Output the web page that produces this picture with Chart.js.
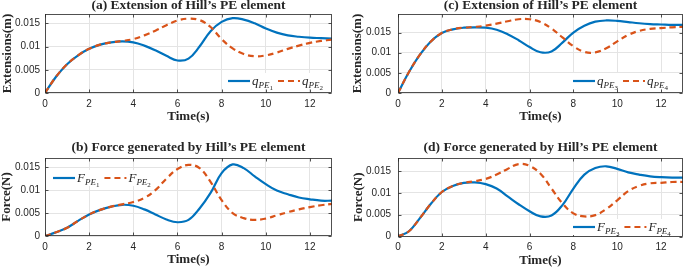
<!DOCTYPE html>
<html><head><meta charset="utf-8">
<script src="https://cdn.jsdelivr.net/npm/chart.js@4.4.1/dist/chart.umd.min.js"></script>
<style>
html,body{margin:0;padding:0;background:#fff;width:685px;height:267px;overflow:hidden;position:relative}
canvas{position:absolute;display:block}
</style></head><body>
<canvas id="ca"></canvas><canvas id="cb"></canvas><canvas id="cc"></canvas><canvas id="cd"></canvas>
<script>
// ---------- data ----------
const time = [0,0.5,1,1.5,2,2.5,3,3.5,4,4.5,5,5.5,6,6.5,7,7.5,8,8.5,9,9.5,10,10.5,11,11.5,12,12.5,13];
// (a) extensions (m)
const qPE1 = [0,0.0035,0.0062,0.0081,0.0095,0.0104,0.0109,0.0111,0.0109,0.0102,0.0092,0.0080,0.0070,0.0074,0.0100,0.0133,0.0153,0.0161,0.0158,0.0150,0.0139,0.0130,0.0124,0.0121,0.0119,0.0118,0.0117];
const qPE2 = [0,0.0035,0.0062,0.0081,0.0095,0.0104,0.0109,0.0112,0.0116,0.0124,0.0134,0.0146,0.0156,0.0160,0.0157,0.0142,0.0116,0.0096,0.0084,0.0079,0.0081,0.0087,0.0095,0.0102,0.0108,0.0112,0.0115];
// (b) force (N)
const FPE1 = [0,0.0008,0.0018,0.0033,0.0047,0.0057,0.0064,0.0068,0.0066,0.0058,0.0047,0.0036,0.0030,0.0035,0.0060,0.0094,0.0137,0.0156,0.0148,0.0130,0.0113,0.0099,0.0091,0.0084,0.0080,0.0077,0.0077];
const FPE2 = [0,0.0008,0.0018,0.0033,0.0047,0.0057,0.0064,0.0069,0.0074,0.0083,0.0100,0.0125,0.0146,0.0155,0.0148,0.0118,0.0078,0.0050,0.0039,0.0035,0.0038,0.0045,0.0052,0.0058,0.0063,0.0067,0.0070];
// (c) extensions (m)
const qPE3 = [0,0.0052,0.0095,0.0128,0.0149,0.0158,0.0162,0.0163,0.0162,0.0157,0.0146,0.0131,0.0114,0.0101,0.0103,0.0125,0.0150,0.0167,0.0177,0.0180,0.0179,0.0176,0.0173,0.0171,0.0170,0.0169,0.0169];
const qPE4 = [0,0.0052,0.0095,0.0128,0.0149,0.0158,0.0162,0.0164,0.0167,0.0172,0.0178,0.0183,0.0183,0.0176,0.0160,0.0138,0.0116,0.0102,0.0101,0.0111,0.0128,0.0144,0.0154,0.0159,0.0161,0.0163,0.0164];
// (d) force (N)
const FPE3 = [0,0.0012,0.0042,0.0075,0.0102,0.0116,0.0123,0.0124,0.0120,0.0110,0.0092,0.0074,0.0058,0.0046,0.0048,0.0072,0.0110,0.0142,0.0157,0.0161,0.0155,0.0147,0.0142,0.0138,0.0136,0.0135,0.0135];
const FPE4 = [0,0.0012,0.0042,0.0075,0.0102,0.0116,0.0123,0.0127,0.0132,0.0142,0.0155,0.0166,0.0162,0.0144,0.0110,0.0076,0.0053,0.0046,0.0049,0.0063,0.0083,0.0104,0.0116,0.0122,0.0123,0.0125,0.0125];

const xTicks = [0,2,4,6,8,10,12];
const yTicks = [0,0.005,0.01,0.015];
const yTickLabels = ['0','0.005','0.01','0.015'];

// ---------- style ----------
const BLUE = '#0072BD', ORANGE = '#D95319', INK = '#262626';
const SERIF = '"Liberation Serif", "DejaVu Serif", serif';
const SANS = '"Liberation Sans", Arial, sans-serif';

const frame = {
  id: 'frame',
  afterDraw(chart, args, o) {
    const {ctx, chartArea: a, scales: {x, y}} = chart;
    ctx.save();
    ctx.strokeStyle = INK; ctx.lineWidth = 0.8;
    const L = Math.round(a.left) + 0.5, R = Math.round(a.right) - 0.5;
    const T = Math.round(a.top) + 0.5, B = Math.round(a.bottom) - 0.5;
    ctx.beginPath();
    x.ticks.forEach(t => {
      const px = Math.round(x.getPixelForValue(t.value)) + 0.5;
      ctx.moveTo(px, B); ctx.lineTo(px, B - 3);
      ctx.moveTo(px, T); ctx.lineTo(px, T + 3);
    });
    y.ticks.forEach(t => {
      const py = Math.round(y.getPixelForValue(t.value)) + 0.5;
      ctx.moveTo(L, py); ctx.lineTo(L + 3, py);
      ctx.moveTo(R, py); ctx.lineTo(R - 3, py);
    });
    ctx.stroke();
    ctx.strokeRect(L, T, R - L, B - T);
    // title
    ctx.fillStyle = INK;
    ctx.font = 'bold 13.5px ' + SERIF;
    ctx.textAlign = 'center'; ctx.textBaseline = 'middle';
    ctx.fillText(o.title, (a.left + a.right) / 2, o.titleY);
    // legend
    const lg = o.legend;
    const measure = (e) => {
      ctx.font = 'italic 13px ' + SERIF; let w = ctx.measureText(e.base).width;
      ctx.font = 'italic 9px ' + SERIF; w += ctx.measureText(e.sub).width;
      ctx.font = '7px ' + SERIF; w += ctx.measureText(e.subsub).width;
      return w;
    };
    let cx = lg.x;
    const items = lg.items.map(e => { const it = {e, x0: cx}; cx += 24 + measure(e) + 5; return it; });
    ctx.fillStyle = '#fff';
    ctx.fillRect(lg.x - 3, lg.y - 8, cx - lg.x, 16);
    items.forEach(({e, x0}) => {
      ctx.save();
      ctx.strokeStyle = e.color; ctx.lineWidth = 2.2;
      ctx.setLineDash(e.dash);
      ctx.beginPath(); ctx.moveTo(x0, lg.y); ctx.lineTo(x0 + 22, lg.y); ctx.stroke();
      ctx.restore();
      ctx.fillStyle = INK; ctx.textAlign = 'left'; ctx.textBaseline = 'alphabetic';
      let tx = x0 + 24;
      ctx.font = 'italic 13px ' + SERIF; ctx.fillText(e.base, tx, lg.y + 4); tx += ctx.measureText(e.base).width;
      ctx.font = 'italic 9px ' + SERIF; ctx.fillText(e.sub, tx, lg.y + 7); tx += ctx.measureText(e.sub).width;
      ctx.font = '7px ' + SERIF; ctx.fillText(e.subsub, tx, lg.y + 9);
    });
    ctx.restore();
  }
};

function makeChart(id, P) {
  const cv = document.getElementById(id);
  cv.width = P.cw; cv.height = P.ch;
  cv.style.left = P.cx + 'px'; cv.style.top = P.cy + 'px';
  cv.style.width = P.cw + 'px'; cv.style.height = P.ch + 'px';
  const half = 13 * 1.2 / 2;
  const padLeft = P.yTitleX - half - P.cx;
  const yWidth = P.area.l - P.cx - padLeft;
  const padTop = P.area.t - P.cy;
  const padRight = P.cx + P.cw - P.area.r;
  const xHeight = P.xTitleY + half - P.area.b;
  const padBottom = P.cy + P.ch - (P.xTitleY + half);
  const axisTitleFont = {family: SERIF, size: 13, weight: 'bold', lineHeight: 1.2};
  const tickFont = {family: SANS, size: 10};
  return new Chart(cv, {
    type: 'line',
    data: {
      labels: time,
      datasets: [
        {data: P.s1, borderColor: BLUE, borderWidth: 2.2, pointRadius: 0, tension: 0.4, order: 1},
        {data: P.s2, borderColor: ORANGE, borderWidth: 2.2, borderDash: [6, 4], pointRadius: 0, tension: 0.4, order: 0}
      ]
    },
    options: {
      responsive: false, animation: false, events: [],
      devicePixelRatio: 1,
      layout: {padding: {left: padLeft, top: padTop, right: padRight, bottom: padBottom}},
      plugins: {
        legend: {display: false}, tooltip: {enabled: false}, title: {display: false},
        frame: {title: P.title, titleY: P.titleY - P.cy, legend: {x: P.legend.x - P.cx, y: P.legend.y - P.cy, items: P.legend.items}}
      },
      scales: {
        x: {
          type: 'linear', min: 0, max: 13,
          afterBuildTicks: s => { s.ticks = xTicks.map(v => ({value: v})); },
          afterFit: s => { s.height = xHeight; },
          ticks: {font: tickFont, color: INK, padding: 5, maxRotation: 0, callback: v => String(v)},
          grid: {color: '#e4e4e4', lineWidth: 1, drawTicks: false},
          border: {display: false},
          title: {display: true, text: 'Time(s)', font: axisTitleFont, color: INK, padding: 0}
        },
        y: {
          type: 'linear', min: 0, max: P.ymax,
          afterBuildTicks: s => { s.ticks = yTicks.map(v => ({value: v})); },
          afterFit: s => { s.width = yWidth; },
          ticks: {font: tickFont, color: INK, padding: P.yPad, callback: (v, i) => yTickLabels[i]},
          grid: {color: '#e4e4e4', lineWidth: 1, drawTicks: false},
          border: {display: false},
          title: {display: true, text: P.ytitle, font: axisTitleFont, color: INK, padding: 0}
        }
      }
    },
    plugins: [frame]
  });
}

const lgQ = (a, b) => [
  {color: BLUE, dash: [], base: 'q', sub: 'PE', subsub: a},
  {color: ORANGE, dash: [6, 4], base: 'q', sub: 'PE', subsub: b}
];
const lgF = (a, b) => [
  {color: BLUE, dash: [], base: 'F', sub: 'PE', subsub: a},
  {color: ORANGE, dash: [6, 4], base: 'F', sub: 'PE', subsub: b}
];

makeChart('ca', {cx: 0, cy: 0, cw: 340, ch: 134, area: {l: 45, t: 14, r: 332, b: 93},
  titleY: 6, xTitleY: 117, yTitleX: 8, ymax: 0.017, yPad: 5, s1: qPE1, s2: qPE2,
  title: '(a) Extension of Hill’s PE element', ytitle: 'Extensions(m)',
  legend: {x: 228, y: 81, items: lgQ('1', '2')}});
makeChart('cc', {cx: 340, cy: 0, cw: 345, ch: 134, area: {l: 398, t: 14, r: 683, b: 93},
  titleY: 6, xTitleY: 117, yTitleX: 358, ymax: 0.0196, yPad: 7, s1: qPE3, s2: qPE4,
  title: '(c) Extension of Hill’s PE element', ytitle: 'Extensions(m)',
  legend: {x: 573, y: 81, items: lgQ('3', '4')}});
makeChart('cb', {cx: 0, cy: 134, cw: 340, ch: 133, area: {l: 45, t: 158, r: 332, b: 236},
  titleY: 148, xTitleY: 260, yTitleX: 7, ymax: 0.017, yPad: 5, s1: FPE1, s2: FPE2,
  title: '(b) Force generated by Hill’s PE element', ytitle: 'Force(N)',
  legend: {x: 53, y: 178, items: lgF('1', '2')}});
makeChart('cd', {cx: 340, cy: 134, cw: 345, ch: 133, area: {l: 398, t: 158, r: 683, b: 236.5},
  titleY: 148, xTitleY: 261, yTitleX: 359, ymax: 0.018, yPad: 7, s1: FPE3, s2: FPE4,
  title: '(d) Force generated by Hill’s PE element', ytitle: 'Force(N)',
  legend: {x: 573, y: 227, items: lgF('3', '4')}});
</script>
</body></html>
